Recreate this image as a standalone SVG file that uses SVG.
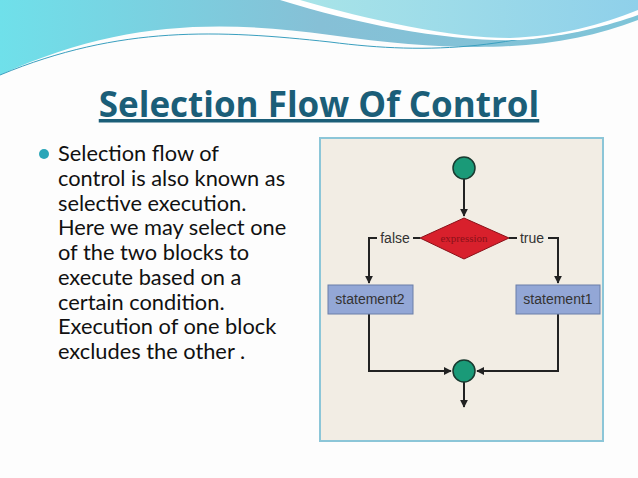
<svg xmlns="http://www.w3.org/2000/svg" width="638" height="478" viewBox="0 0 638 478">
<defs>
<linearGradient id="wave1" x1="0" y1="0" x2="1" y2="0"><stop offset="0" stop-color="#6fe0ea"/><stop offset="0.5" stop-color="#86c0d6"/><stop offset="1" stop-color="#7fc4d8"/></linearGradient>
<linearGradient id="wave2" x1="0" y1="0" x2="1" y2="0"><stop offset="0" stop-color="#a8e4e8"/><stop offset="1" stop-color="#8fd0ea"/></linearGradient>
<marker id="ah" viewBox="0 0 10 10" refX="9" refY="5" markerWidth="4" markerHeight="4" orient="auto"><path d="M0,0 L10,5 L0,10 z" fill="#222"/></marker>
<style>
.ln{stroke:#222;stroke-width:2;fill:none}
.box{fill:#93a7d6;stroke:#6b7fa8;stroke-width:1}
.lbl{font-family:"Liberation Sans",Arial,sans-serif;font-size:14px;fill:#333}
.body{font-family:Lato,"Liberation Sans",sans-serif;font-size:21.8px;fill:#111}
</style>
</defs>
<rect width="638" height="478" fill="#fdfdfd"/>
<path d="M0,0 H638 V20 C560,50 470,55 330,35 C220,20 120,20 0,75 Z" fill="url(#wave1)"/>
<path d="M0,75 C120,25 220,30 330,42 C430,55 520,50 638,5" fill="none" stroke="#3a9fbf" stroke-width="1"/>
<path d="M280,0 C360,25 450,42 520,40 C570,36 610,25 638,15 V0 Z" fill="#fff"/>
<path d="M300,0 C370,20 450,38 510,38 C560,36 600,25 638,10 V0 Z" fill="url(#wave2)"/>
<text x="319" y="117" text-anchor="middle" font-family="'Open Sans','DejaVu Sans',sans-serif" font-weight="bold" font-size="35" fill="#1b5e78" text-decoration="underline">Selection Flow Of Control</text>
<circle cx="44" cy="154" r="5" fill="#2aa6b8"/>
<text class="body"><tspan x="58" y="161">Selection flow of</tspan><tspan x="58" y="186">control is also known as</tspan><tspan x="58" y="211">selective execution.</tspan><tspan x="58" y="235">Here we may select one</tspan><tspan x="58" y="260">of the two blocks to</tspan><tspan x="58" y="285">execute based on a</tspan><tspan x="58" y="310">certain condition.</tspan><tspan x="58" y="334">Execution of one block</tspan><tspan x="58" y="359">excludes the other .</tspan></text>
<rect x="320" y="138" width="283" height="303" fill="#f2ede4" stroke="#8cc6d8" stroke-width="2"/>
<g id="connectors">
<path class="ln" d="M464,179 V216" marker-end="url(#ah)"/>
<path class="ln" d="M377,238 H369 V283" marker-end="url(#ah)"/>
<path class="ln" d="M548,238 H558 V283" marker-end="url(#ah)"/>
<path class="ln" d="M369,314 V371 H451" marker-end="url(#ah)"/>
<path class="ln" d="M558,314 V371 H477" marker-end="url(#ah)"/>
<path class="ln" d="M464,382 V407" marker-end="url(#ah)"/>
<path class="ln" d="M413,238 H420 M509,238 H517"/>
</g>
<text class="lbl" x="395" y="243" text-anchor="middle">false</text>
<text class="lbl" x="532" y="243" text-anchor="middle">true</text>
<g id="start"><circle cx="464" cy="168" r="11" fill="#1a9a78" stroke="#1a3a30" stroke-width="1.5"/></g>
<g id="expression"><polygon points="420,238 464,218 509,238 464,259" fill="#d8202c" stroke="#8a1018"/><text x="464" y="242" text-anchor="middle" font-family="'Liberation Serif',serif" font-size="11" fill="#8a1018">expression</text></g>
<g id="statement2"><rect class="box" x="328" y="285" width="85" height="29"/><text class="lbl" x="370" y="304" text-anchor="middle">statement2</text></g>
<g id="statement1"><rect class="box" x="516" y="285" width="84" height="29"/><text class="lbl" x="558" y="304" text-anchor="middle">statement1</text></g>
<g id="end"><circle cx="464" cy="371" r="11" fill="#1a9a78" stroke="#1a3a30" stroke-width="1.5"/></g>
</svg>
